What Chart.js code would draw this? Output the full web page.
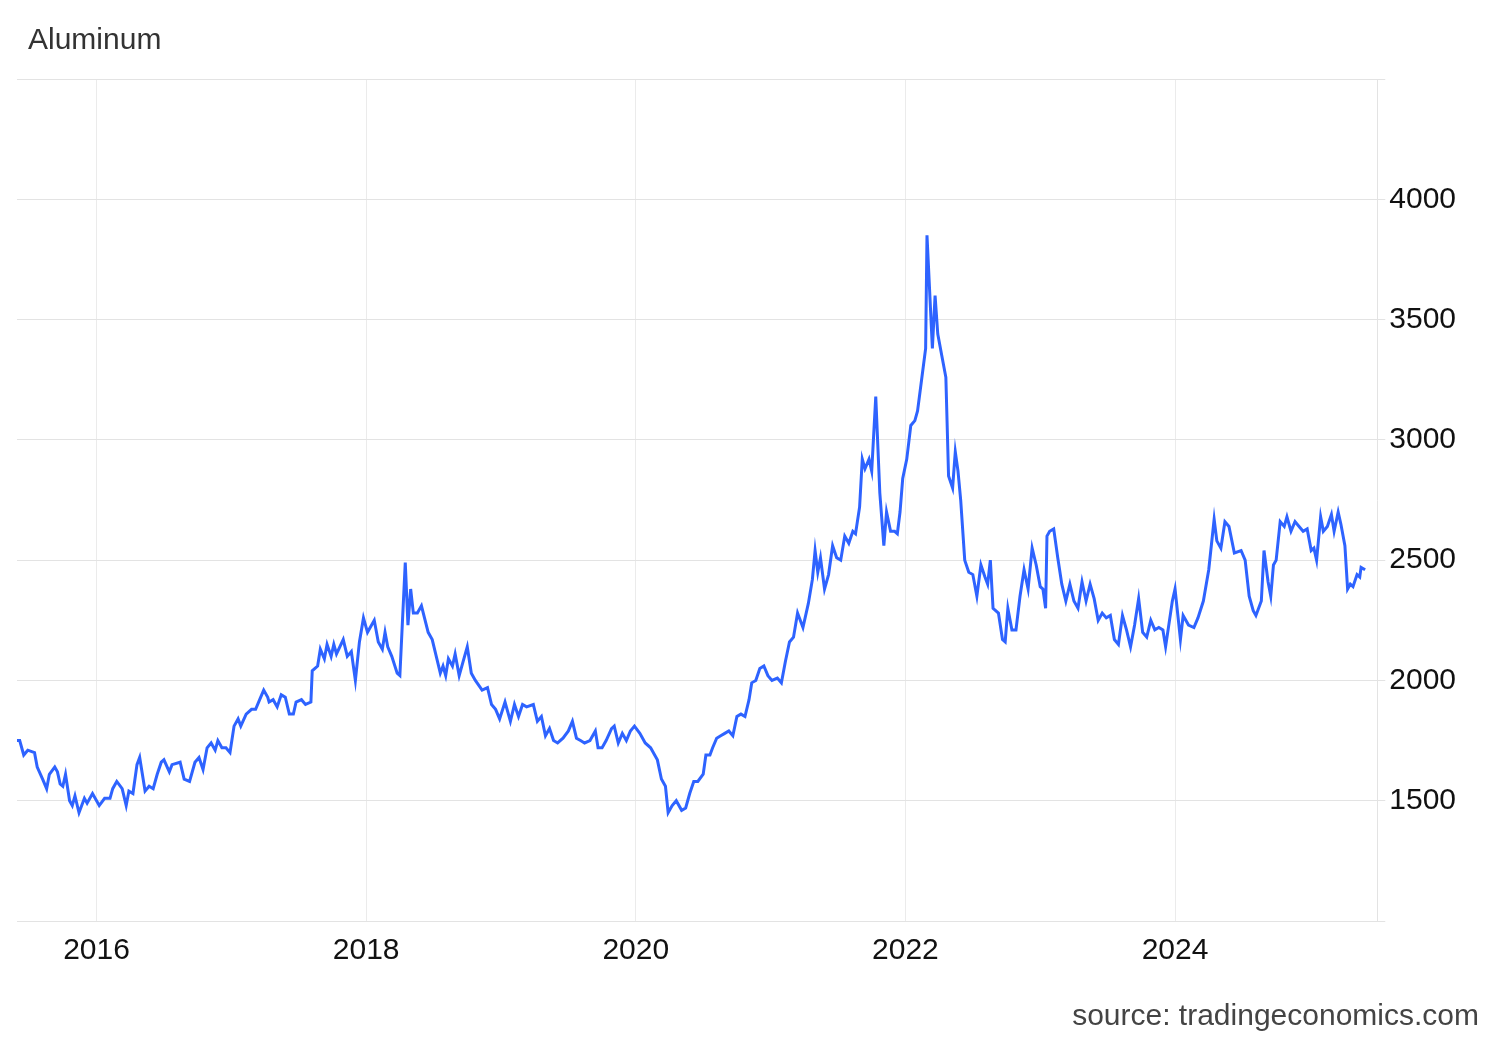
<!DOCTYPE html>
<html>
<head>
<meta charset="utf-8">
<script src="https://cdn.jsdelivr.net/npm/chart.js@4"></script>
<style>
  body { margin: 0; background: #fff; font-family: "Liberation Sans", Arial, sans-serif; }
  #wrap { position: relative; width: 1500px; height: 1040px; }
  #title { position: absolute; left: 28px; top: 22px; font-size: 30px; color: #333; }
  #source { position: absolute; right: 21px; top: 998px; font-size: 30px; color: #444; }
</style>
</head>
<body>
<div id="wrap">
  <canvas id="chart" width="1500" height="1040"></canvas>
  <div id="title">Aluminum</div>
  <div id="source">source: tradingeconomics.com</div>
</div>
<script>
const dates = [2015.41,2015.43,2015.46,2015.49,2015.54,2015.56,2015.60,2015.63,2015.65,2015.69,2015.71,2015.73,2015.75,2015.77,2015.80,2015.82,2015.84,2015.87,2015.91,2015.93,2015.97,2016.02,2016.06,2016.10,2016.12,2016.15,2016.19,2016.22,2016.24,2016.27,2016.30,2016.32,2016.36,2016.39,2016.42,2016.45,2016.48,2016.50,2016.54,2016.56,2016.62,2016.65,2016.69,2016.73,2016.76,2016.79,2016.82,2016.85,2016.88,2016.90,2016.93,2016.96,2016.99,2017.02,2017.05,2017.07,2017.11,2017.15,2017.18,2017.21,2017.24,2017.27,2017.28,2017.31,2017.34,2017.37,2017.40,2017.43,2017.46,2017.48,2017.52,2017.55,2017.59,2017.60,2017.64,2017.66,2017.69,2017.71,2017.74,2017.76,2017.78,2017.83,2017.86,2017.89,2017.92,2017.95,2017.98,2018.01,2018.06,2018.09,2018.12,2018.14,2018.16,2018.19,2018.23,2018.25,2018.29,2018.31,2018.33,2018.35,2018.38,2018.41,2018.46,2018.49,2018.52,2018.55,2018.57,2018.59,2018.61,2018.64,2018.66,2018.69,2018.72,2018.75,2018.78,2018.81,2018.86,2018.90,2018.93,2018.96,2018.99,2019.03,2019.07,2019.10,2019.13,2019.16,2019.19,2019.24,2019.27,2019.30,2019.33,2019.36,2019.39,2019.42,2019.46,2019.50,2019.53,2019.56,2019.59,2019.62,2019.66,2019.70,2019.72,2019.75,2019.78,2019.82,2019.84,2019.87,2019.90,2019.93,2019.96,2019.99,2020.03,2020.07,2020.11,2020.14,2020.16,2020.19,2020.22,2020.24,2020.27,2020.30,2020.34,2020.37,2020.40,2020.43,2020.46,2020.50,2020.52,2020.55,2020.57,2020.60,2020.63,2020.66,2020.69,2020.72,2020.75,2020.78,2020.81,2020.84,2020.86,2020.89,2020.92,2020.95,2020.98,2021.01,2021.05,2021.08,2021.11,2021.14,2021.17,2021.20,2021.24,2021.28,2021.31,2021.33,2021.35,2021.37,2021.40,2021.43,2021.46,2021.49,2021.52,2021.55,2021.58,2021.61,2021.63,2021.66,2021.68,2021.70,2021.73,2021.75,2021.78,2021.81,2021.84,2021.86,2021.89,2021.92,2021.94,2021.96,2021.98,2022.01,2022.04,2022.07,2022.09,2022.12,2022.15,2022.16,2022.20,2022.22,2022.24,2022.27,2022.30,2022.32,2022.35,2022.37,2022.39,2022.41,2022.44,2022.47,2022.50,2022.53,2022.56,2022.59,2022.61,2022.63,2022.65,2022.69,2022.72,2022.74,2022.76,2022.79,2022.82,2022.85,2022.88,2022.91,2022.94,2022.97,2023.00,2023.02,2023.04,2023.05,2023.07,2023.10,2023.13,2023.16,2023.19,2023.22,2023.25,2023.28,2023.31,2023.34,2023.37,2023.40,2023.43,2023.46,2023.49,2023.52,2023.55,2023.58,2023.61,2023.64,2023.67,2023.70,2023.73,2023.76,2023.79,2023.82,2023.85,2023.88,2023.91,2023.93,2023.98,2024.00,2024.04,2024.06,2024.10,2024.14,2024.17,2024.21,2024.25,2024.29,2024.31,2024.34,2024.37,2024.40,2024.44,2024.49,2024.52,2024.55,2024.58,2024.60,2024.64,2024.66,2024.69,2024.71,2024.73,2024.75,2024.78,2024.81,2024.83,2024.86,2024.89,2024.92,2024.95,2024.98,2025.01,2025.03,2025.05,2025.08,2025.10,2025.13,2025.16,2025.18,2025.21,2025.23,2025.26,2025.28,2025.30,2025.32,2025.35,2025.37,2025.38,2025.41];

const prices = [1750,1750,1690,1710,1700,1640,1590,1550,1610,1640,1620,1570,1560,1610,1500,1480,1520,1450,1510,1490,1530,1480,1510,1510,1550,1580,1550,1480,1540,1530,1650,1680,1540,1560,1550,1610,1660,1670,1620,1650,1660,1590,1580,1660,1680,1630,1720,1740,1710,1750,1720,1720,1700,1810,1840,1810,1860,1880,1880,1920,1960,1930,1910,1920,1890,1940,1930,1860,1860,1910,1920,1900,1910,2040,2060,2130,2090,2150,2100,2150,2110,2170,2100,2120,2000,2160,2260,2200,2250,2160,2130,2200,2140,2100,2030,2020,2490,2230,2380,2280,2280,2310,2200,2170,2100,2030,2060,2020,2090,2060,2110,2020,2080,2140,2030,2000,1960,1970,1900,1880,1840,1910,1830,1900,1850,1900,1890,1900,1830,1850,1770,1800,1750,1740,1760,1790,1830,1760,1750,1740,1750,1790,1720,1720,1750,1800,1810,1740,1780,1750,1790,1810,1780,1740,1720,1690,1670,1590,1560,1450,1480,1500,1460,1470,1530,1580,1580,1610,1690,1690,1720,1760,1770,1780,1790,1770,1850,1860,1850,1920,1990,2000,2050,2060,2020,2000,2010,1990,2080,2160,2180,2280,2220,2320,2420,2540,2450,2510,2380,2440,2560,2510,2500,2600,2570,2620,2610,2720,2920,2880,2920,2870,3180,2780,2560,2700,2620,2620,2610,2700,2840,2920,3060,3080,3120,3250,3380,3850,3380,3600,3440,3350,3260,2850,2800,2950,2870,2750,2500,2450,2440,2350,2480,2430,2400,2500,2300,2280,2170,2160,2300,2210,2210,2350,2460,2380,2550,2480,2390,2380,2300,2600,2620,2630,2510,2400,2330,2400,2330,2300,2410,2330,2400,2340,2250,2280,2260,2270,2170,2150,2270,2210,2140,2230,2340,2200,2180,2250,2210,2220,2210,2140,2330,2380,2170,2270,2230,2220,2260,2330,2460,2670,2580,2550,2660,2640,2530,2540,2500,2350,2290,2270,2330,2540,2410,2350,2480,2500,2660,2640,2680,2620,2660,2640,2620,2630,2540,2550,2500,2680,2620,2640,2690,2620,2700,2650,2560,2380,2400,2390,2440,2430,2470,2460];

const yearTicks = [2016, 2018, 2020, 2022, 2024];
const priceTicks = [1500, 2000, 2500, 3000, 3500, 4000];

const points = dates.map((d, i) => ({ x: d, y: prices[i] }));
const tickFont = { size: 30, family: "'Liberation Sans', Arial, sans-serif" };

new Chart(document.getElementById("chart").getContext("2d"), {
    type: "line",
    data: {
        datasets: [{
            data: points,
            borderColor: "#2e63ff",
            borderWidth: 3,
            pointRadius: 0,
            tension: 0,
            fill: false
        }]
    },
    options: {
        responsive: false,
        animation: false,
        layout: { padding: { top: 79, left: 17, right: 40, bottom: 59 } },
        plugins: { legend: { display: false }, tooltip: { enabled: false } },
        scales: {
            x: {
                type: "linear",
                min: 2015.41,
                max: 2025.5,
                afterBuildTicks: axis => { axis.ticks = yearTicks.map(v => ({ value: v })); },
                grid: { color: "#ebebeb", drawTicks: false },
                border: { display: false },
                ticks: { color: "#111", padding: 12, font: tickFont, callback: v => String(v) }
            },
            y: {
                position: "right",
                min: 1000,
                max: 4500,
                afterBuildTicks: axis => { axis.ticks = [1000].concat(priceTicks, [4500]).map(v => ({ value: v })); },
                grid: { color: "#e3e3e3", tickLength: 8 },
                border: { display: true, color: "#e3e3e3" },
                ticks: {
                    color: "#111", padding: 4, font: tickFont,
                    callback: v => priceTicks.includes(v) ? String(v) : ""
                }
            }
        }
    }
});
</script>
</body>
</html>
